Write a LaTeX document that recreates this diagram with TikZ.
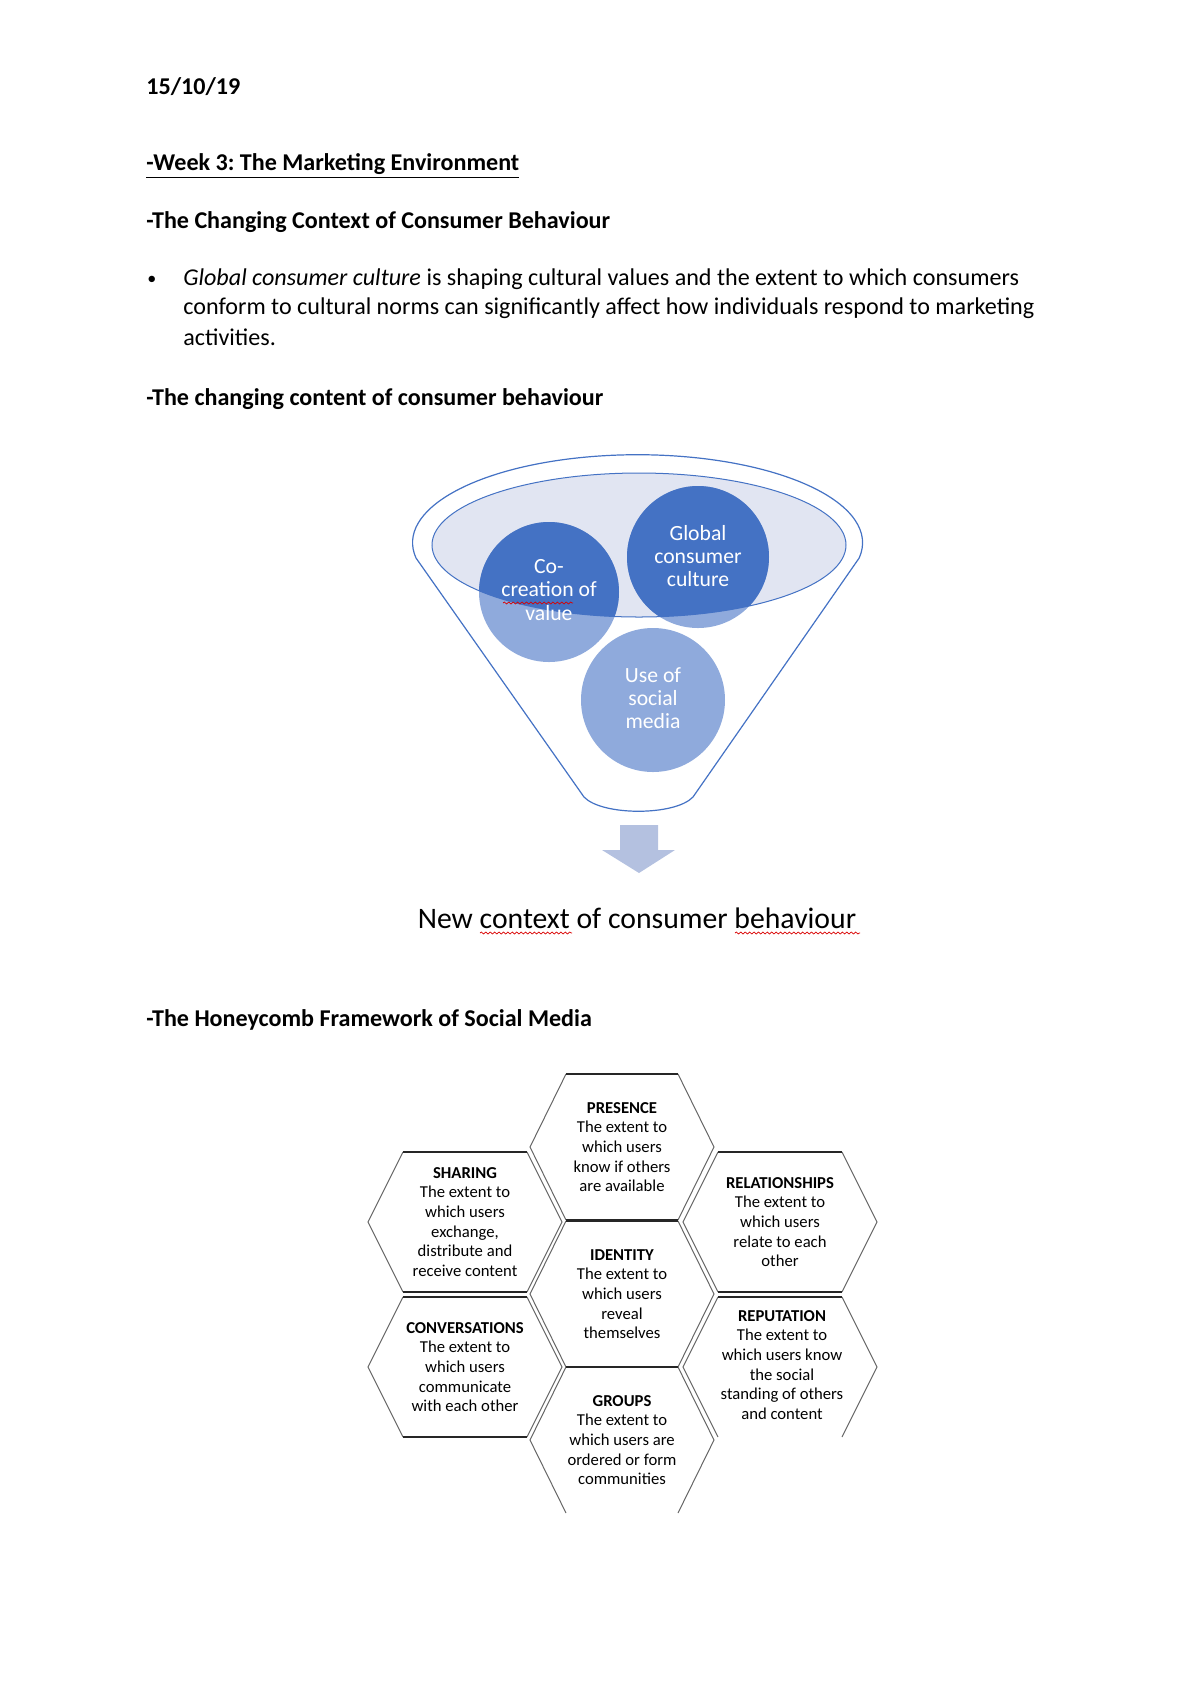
\documentclass[tikz,border=0pt]{standalone}
\usepackage{fontspec}
\setmainfont{Carlito}
\frenchspacing
\usetikzlibrary{decorations.pathmorphing}
\definecolor{officeblue}{HTML}{4472C4}
\definecolor{paleblue}{HTML}{8FAADC}
\definecolor{lavender}{HTML}{E1E5F2}
\definecolor{arrowblue}{HTML}{B4C1E0}

\begin{document}
\begin{tikzpicture}[x=0.0175cm, y=-0.0175cm, font=\fontsize{12}{14}\selectfont,
  head/.style={anchor=base west, inner sep=0pt, font=\fontsize{12}{14}\selectfont\bfseries},
  body/.style={anchor=base west, inner sep=0pt},
  bubble/.style={text=white, align=center, font=\fontsize{10.8}{11.5}\selectfont},
  cell/.style={align=center, font=\fontsize{8.3}{9.8}\selectfont},
  rim/.style={officeblue, line width=0.6pt},
  hexside/.style={black!60, line width=0.5pt},
  hexedge/.style={black!85, line width=0.8pt},
  squiggle/.style={red!85!black, line width=0.35pt, decorate,
    decoration={snake, amplitude=0.5pt, segment length=2.2pt}}]
  \useasboundingbox (0,0) rectangle (1200,1698);

  \node[head] (date) at (146,94) {15/10/19};
  \node[head] (week) at (146,170) {\underline{-Week 3: The Marketing Environment}};
  \node[head] (changing) at (146,228) {-The Changing Context of Consumer Behaviour};
  \node[body, font=\fontsize{9}{10}\selectfont] (dot) at (147,284) {\textbullet};
  \node[body] (line1) at (183,285) {\textit{Global consumer culture} is shaping cultural values and the extent to which consumers};
  \node[body] (line2) at (183,314) {conform to cultural norms can significantly affect how individuals respond to marketing};
  \node[body] (line3) at (183,345) {activities.};
  \node[head] (content) at (146,405) {-The changing content of consumer behaviour};

  % funnel
  \draw[rim] (584,797) -- (416,558) arc[start angle=170, end angle=370, x radius=225, y radius=88]
    -- (693,797) .. controls (675,816) and (602,816) .. (584,797) -- cycle;
  \fill[lavender] (639,545) ellipse[x radius=207, y radius=72];
  \fill[paleblue] (549,592) circle[radius=70];
  \fill[paleblue] (698,557) circle[radius=71];
  \fill[paleblue] (653,700) circle[radius=72];
  \begin{scope}
    \clip (639,545) ellipse[x radius=207, y radius=72];
    \fill[officeblue] (549,592) circle[radius=70];
    \fill[officeblue] (698,557) circle[radius=71];
  \end{scope}
  \draw[rim, line width=0.5pt] (639,545) ellipse[x radius=207, y radius=72];
  \node[bubble] (cocreation) at (549,590) {Co-\\creation of\\value};
  \node[bubble] (global) at (698,556) {Global\\consumer\\culture};
  \node[bubble] (social) at (653,698) {Use of\\social\\media};
  \draw[squiggle] (503,603) -- (573,603);

  \fill[arrowblue] (620,825) -- (658,825) -- (658,850) -- (675,850) -- (639,873)
    -- (602,850) -- (620,850) -- cycle;
  \node[anchor=base, inner sep=0pt, font=\fontsize{14.8}{17}\selectfont] (newcontext) at (637,928)
    {New context of consumer behaviour};
  \draw[squiggle] (480,933) -- (572,933);
  \draw[squiggle] (735,933) -- (860,933);

  \node[head] (honeycomb) at (146,1026) {-The Honeycomb Framework of Social Media};

  % honeycomb cells
  \foreach \cx/\cy/\a/\b/\h in {622/1147/92/56/73, 622/1294/92/56/73, 465/1222/97/62/70,
      465/1367/97/62/70, 780/1222/97/62/70}{
    \draw[hexside] (\cx-\b,\cy-\h) -- (\cx-\a,\cy) -- (\cx-\b,\cy+\h);
    \draw[hexside] (\cx+\b,\cy-\h) -- (\cx+\a,\cy) -- (\cx+\b,\cy+\h);
    \draw[hexedge] (\cx-\b,\cy-\h) -- (\cx+\b,\cy-\h);
    \draw[hexedge] (\cx-\b,\cy+\h) -- (\cx+\b,\cy+\h);
  }
  \foreach \cx/\cy/\a/\b/\h in {622/1440/92/56/73, 780/1367/97/62/70}{
    \draw[hexside] (\cx-\b,\cy-\h) -- (\cx-\a,\cy) -- (\cx-\b,\cy+\h);
    \draw[hexside] (\cx+\b,\cy-\h) -- (\cx+\a,\cy) -- (\cx+\b,\cy+\h);
    \draw[hexedge] (\cx-\b,\cy-\h) -- (\cx+\b,\cy-\h);
  }
  \node[cell] (presence) at (622,1147) {\textbf{PRESENCE}\\The extent to\\which users\\know if others\\are available};
  \node[cell] (sharing) at (465,1222) {\textbf{SHARING}\\The extent to\\which users\\exchange,\\distribute and\\receive content};
  \node[cell] (relationships) at (780,1222) {\textbf{RELATIONSHIPS}\\The extent to\\which users\\relate to each\\other};
  \node[cell] (identity) at (622,1294) {\textbf{IDENTITY}\\The extent to\\which users\\reveal\\themselves};
  \node[cell] (conversations) at (465,1367) {\textbf{CONVERSATIONS}\\The extent to\\which users\\communicate\\with each other};
  \node[cell] (reputation) at (782,1365) {\textbf{REPUTATION}\\The extent to\\which users know\\the social\\standing of others\\and content};
  \node[cell] (groups) at (622,1440) {\textbf{GROUPS}\\The extent to\\which users are\\ordered or form\\communities};
\end{tikzpicture}
\end{document}
